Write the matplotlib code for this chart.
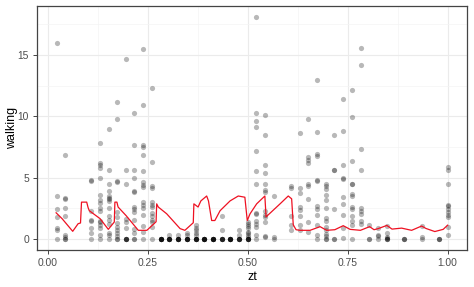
import numpy as np
import matplotlib
matplotlib.use("Agg")
import matplotlib.pyplot as plt

plt.rcParams['font.family'] = ['Liberation Sans', 'DejaVu Sans']

# zt position of each column of observations
zt_cols = [0.022, 0.043, 0.109, 0.130, 0.152, 0.174, 0.196, 0.217, 0.239, 0.261,
           0.283, 0.304, 0.326, 0.348, 0.370, 0.391, 0.413, 0.435, 0.457, 0.478,
           0.500, 0.522, 0.543, 0.565, 0.609, 0.630, 0.652, 0.674, 0.696, 0.717,
           0.739, 0.761, 0.783, 0.804, 0.826, 0.848, 0.891, 0.935, 0.978, 1.000]

# walking values observed at each column
walking_cols = [
    [15.95, 3.5, 2.4, 1.75, 0.85, 0.7, 0],
    [6.86, 3.35, 3.25, 2.5, 1.9, 0.3, 0.15, 0, 0],
    [4.8, 4.7, 2.3, 1.55, 1.45, 0.85, 0.45, 0],
    [7.8, 6.2, 6.0, 5.8, 5.0, 3.6, 3.2, 2.95, 2.5, 2.3, 1.5, 1.4, 1.15, 0.85, 0.3, 0],
    [8.95, 5.65, 4.5, 3.9, 3.5, 3.35, 3.25, 3.1, 2.55, 1.9, 1.55, 1.25, 0.5, 0.3, 0],
    [11.15, 9.8, 4.7, 4.65, 2.2, 1.75, 1.3, 0.95, 0.7, 0.5, 0.25, 0, 0],
    [14.7, 5.65, 4.5, 1.65, 1.4, 0.85, 0, 0, 0, 0, 0],
    [10.3, 7.7, 5.65, 5.0, 3.9, 3.8, 2.6, 2.45, 2.2, 1.55, 0.8, 0.5, 0, 0],
    [15.5, 10.95, 7.7, 7.5, 6.85, 5.5, 4.65, 4.4, 4.2, 3.0, 2.8, 2.5, 1.95, 1.05, 0.6, 0],
    [12.3, 6.3, 4.3, 4.15, 3.0, 2.8, 2.6, 2.1, 1.85, 1.55, 1.35, 0.95, 0],
    [0, 0, 0, 0, 0, 0, 0, 0],
    [0.3, 0, 0, 0, 0, 0, 0, 0],
    [0.3, 0, 0, 0, 0, 0, 0, 0],
    [0.5, 0.3, 0, 0, 0, 0, 0, 0, 0],
    [1.1, 0.9, 0.7, 0.5, 0.3, 0, 0, 0, 0, 0, 0, 0],
    [0, 0, 0, 0, 0, 0, 0, 0],
    [0, 0, 0, 0, 0, 0, 0, 0],
    [1.85, 0.7, 0, 0, 0, 0, 0, 0],
    [0, 0, 0, 0, 0, 0, 0, 0],
    [0.75, 0.3, 0, 0, 0, 0, 0, 0],
    [1.4, 1.25, 1.05, 0.85, 0.6, 0.45, 0.3, 0.15, 0, 0, 0, 0, 0, 0],
    [18.1, 10.3, 9.65, 9.15, 7.2, 5.5, 4.5, 2.1, 2.0, 1.5, 1.25, 1.0, 0.3, 0],
    [10.1, 8.5, 6.05, 5.35, 4.45, 3.95, 3.8, 2.25, 1.95, 1.8, 1.4, 0.25, 0.15],
    [3.5, 0.15, 0],
    [4.35, 4.15, 1.9, 1.1, 0.7],
    [8.65, 4.15, 3.75, 2.6, 2.35, 1.9, 1.15, 0.7],
    [9.8, 6.65, 6.45, 6.2, 4.45, 4.35, 3.25, 1.4, 0.6],
    [13.0, 8.7, 6.95, 6.75, 4.8, 4.75, 2.65, 2.45, 1.95, 1.1, 0.3, 0],
    [4.45, 4.3, 4.05, 3.6, 3.15, 2.5, 1.7, 1.5, 1.0, 0.75, 0.4, 0.2, 0, 0],
    [8.5, 5.65, 5.6, 2.45, 0, 0],
    [11.45, 8.8, 6.05, 5.0, 4.9, 3.4, 2.85, 1.95, 0.9, 0.1],
    [12.15, 9.95, 6.35, 4.5, 4.45, 3.65, 3.5, 2.6, 2.45, 1.9, 1.5, 1.1, 0],
    [15.55, 14.15, 7.3, 5.6, 2.5, 2.3, 2.0, 1.45, 1.25],
    [1.15, 0, 0],
    [0.9, 0.35, 0.25, 0],
    [1.05, 0.5, 0.15, 0.1, 0, 0, 0],
    [0, 0, 0],
    [1.05, 0.15, 0],
    [0, 0, 0],
    [5.85, 5.6, 4.5, 2.8, 2.65, 2.45, 2.2, 1.95, 1.75, 0.95, 0.35],
]

# fitted curve (red line)
fit_zt = [0.021, 0.036, 0.0625, 0.076, 0.082, 0.0845, 0.0975, 0.101, 0.104, 0.131,
          0.1515, 0.1665, 0.168, 0.173, 0.176, 0.196, 0.2265, 0.248, 0.271, 0.2725,
          0.2765, 0.2975, 0.331, 0.343, 0.364, 0.3655, 0.376, 0.383, 0.3975, 0.402,
          0.41, 0.418, 0.431, 0.456, 0.4765, 0.493, 0.499, 0.506, 0.5225, 0.543,
          0.546, 0.556, 0.581, 0.6015, 0.61, 0.614, 0.621, 0.631, 0.656, 0.681,
          0.6975, 0.718, 0.739, 0.756, 0.782, 0.805, 0.816, 0.8265, 0.848, 0.861,
          0.885, 0.91, 0.935, 0.946, 0.968, 0.989, 1.0]
fit_walking = [2.13, 1.65, 0.62, 1.24, 1.3, 3.0, 3.0, 2.55, 2.3, 1.65,
               0.78, 1.38, 3.0, 3.0, 2.6, 1.9, 0.7, 0.7, 1.4, 2.86,
               2.6, 2.05, 0.84, 0.7, 1.32, 2.86, 2.6, 3.1, 3.5, 3.1,
               1.5, 1.5, 2.3, 3.1, 3.5, 3.4, 1.5, 2.05, 2.86, 3.5,
               1.8, 2.1, 2.86, 3.5, 3.27, 1.15, 0.75, 0.7, 0.7, 1.0,
               0.7, 0.75, 1.08, 0.78, 0.7, 1.0, 0.75, 0.84, 1.1, 0.8,
               0.88, 0.7, 1.05, 0.85, 0.6, 0.78, 1.12]

x = []
y = []
for zt, vals in zip(zt_cols, walking_cols):
    x += [zt] * len(vals)
    y += vals

fig = plt.figure(figsize=(4.74, 2.87), dpi=100)
ax = fig.add_axes([37 / 474, 1 - 250 / 287, 430 / 474, 244 / 287])

ax.set_xlim(-0.0268, 1.0485)
ax.set_ylim(-0.905, 19.0)
ax.set_xticks([0, 0.25, 0.5, 0.75, 1.0])
ax.set_xticklabels(["0.00", "0.25", "0.50", "0.75", "1.00"])
ax.set_yticks([0, 5, 10, 15])
ax.set_xticks([0.125, 0.375, 0.625, 0.875], minor=True)
ax.set_yticks([2.5, 7.5, 12.5, 17.5], minor=True)

ax.grid(True, which="major", color="#EBEBEB", linewidth=0.8)
ax.grid(True, which="minor", color="#F4F4F4", linewidth=0.5)
ax.set_axisbelow(True)

for s in ax.spines.values():
    s.set_color("#444444")
    s.set_linewidth(0.9)

ax.tick_params(which="major", length=2.8, width=0.7, color="#444444",
               labelcolor="#4D4D4D", labelsize=7.4, pad=3)
ax.tick_params(which="minor", length=0)

ax.scatter(x, y, s=14, color="black", alpha=0.28, linewidths=0, zorder=2)
ax.plot(fit_zt, fit_walking, color="#EE1122", linewidth=0.9, zorder=3)

ax.set_xlabel("zt", fontsize=9, color="black", labelpad=2)
ax.set_ylabel("walking", fontsize=9, color="black")
ax.yaxis.set_label_coords(-0.045, 0.5)

fig.savefig("out.png", dpi=100)
